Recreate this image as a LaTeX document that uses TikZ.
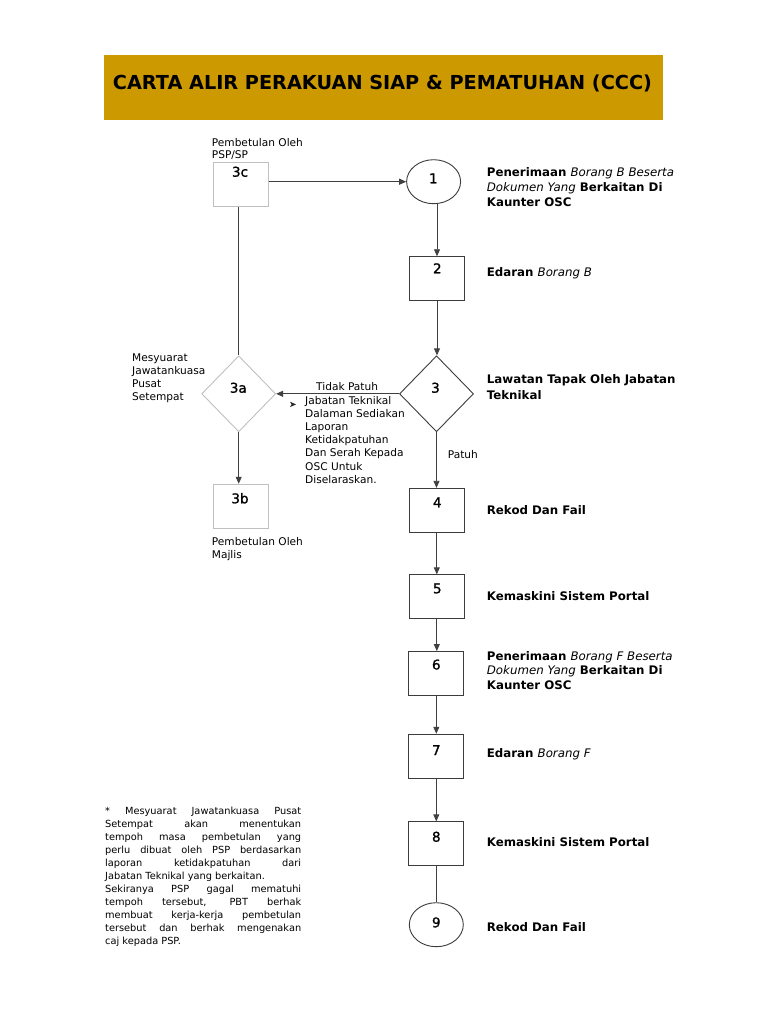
\documentclass[tikz,border=0pt]{standalone}
\usepackage{fontspec}
\setmainfont{DejaVu Sans}
\newfontfamily\numfont[FakeBold=1.2]{DejaVu Sans}
\usetikzlibrary{arrows.meta,shapes.geometric}
\definecolor{gold}{RGB}{204,153,0}
\definecolor{lgray}{RGB}{192,192,192}
\definecolor{dline}{RGB}{60,60,60}
\tikzset{
  box/.style={draw=dline, line width=0.9pt, minimum width=55pt, minimum height=44pt, inner sep=0pt},
  gbox/.style={box, draw=lgray},
  oval/.style={ellipse, draw=dline, line width=0.9pt, minimum width=54pt, minimum height=44pt, inner sep=0pt},
  dia/.style={diamond, draw=dline, line width=0.9pt, minimum width=74pt, minimum height=76pt, inner sep=0pt},
  gdia/.style={dia, draw=lgray},
  num/.style={font=\numfont\fontsize{13.5}{16}\selectfont, inner sep=0pt, anchor=base},
  lbl/.style={font=\fontsize{10.6}{13}\selectfont, align=left, anchor=base west, inner sep=0pt},
  blbl/.style={font=\fontsize{11.8}{15}\selectfont\bfseries, align=left, anchor=base west, inner sep=0pt},
  arr/.style={draw=black!75, line width=0.8pt, -{Triangle[length=7pt,width=6pt]}},
  ln/.style={draw=black!75, line width=0.8pt},
}
\newcommand{\jline}[1]{\makebox[196pt][s]{#1}}
\begin{document}
\begin{tikzpicture}[x=1pt,y=-1pt]
\path[use as bounding box, fill=white] (0,0) rectangle (768,1024);
% title
\node[fill=gold, minimum width=559pt, minimum height=65pt, inner sep=0pt, anchor=north west] (title) at (103.3,55) {};
\node[font=\fontsize{19}{22}\selectfont\bfseries, anchor=base west, inner sep=0pt] (ttext) at (112.7,90)
  {\resizebox{539pt}{!}{CARTA ALIR PERAKUAN SIAP \& PEMATUHAN (CCC)}};
% left column
\node[gbox] (n3c) at (240.8,184.5) {};
\node[num] (t3c) at (240,176.7) {3c};
\node[gdia] (n3a) at (238.7,393.8) {};
\node[num] (t3a) at (238.3,392.7) {3a};
\node[gbox] (n3b) at (240.5,506.2) {};
\node[num] (t3b) at (240,503.3) {3b};
% main column
\node[oval] (n1) at (433.6,181.7) {};
\node[num] (t1) at (433.3,183.3) {1};
\node[box] (n2) at (437,278.7) {};
\node[num] (t2) at (437.3,273.3) {2};
\node[dia] (n3) at (436.5,393.8) {};
\node[num] (t3) at (435.5,392.7) {3};
\node[box] (n4) at (436.8,510.3) {};
\node[num] (t4) at (437.3,507.3) {4};
\node[box] (n5) at (436.8,596.8) {};
\node[num] (t5) at (437.3,593.3) {5};
\node[box] (n6) at (436.3,673.5) {};
\node[num] (t6) at (436.3,669.5) {6};
\node[box] (n7) at (436.3,756.2) {};
\node[num] (t7) at (436.3,755) {7};
\node[box] (n8) at (436.3,843.8) {};
\node[num] (t8) at (436.3,841.7) {8};
\node[oval] (n9) at (436.3,924.7) {};
\node[num] (t9) at (436.3,927.3) {9};
% connectors
\draw[arr] (n1.west -| n3c.east) -- (n1.west);
\draw[ln] (n3c.south -| n3a.north) -- (n3a.north);
\draw[arr] (n3a.south) -- (n3a.south |- n3b.north);
\draw[arr] (n2.north |- n1.south) -- (n2.north);
\draw[arr] (n2.south) -- (n2.south |- n3.north);
\draw[arr] (n3.west) -- (n3a.east);
\draw[arr] (n3.south) -- (n3.south |- n4.north);
\draw[arr] (n4.south) -- (n4.south |- n5.north);
\draw[arr] (n5.south) -- (n5.south |- n6.north);
\draw[arr] (n6) -- (n7);
\draw[arr] (n7) -- (n8);
\draw[ln] (n8) -- (n9);
% bullet marker
\coordinate (bm) at (290,401.7);
\fill[black!85] (bm) -- ++(6,2.7) -- ++(-6,2.7) -- ++(1.6,-2.7) -- cycle;
% left labels (anchor = baseline of last line)
\node[lbl, font=\fontsize{10.6}{12}\selectfont] (l3c) at (211.7,159) {Pembetulan Oleh\\PSP/SP};
\node[lbl] (l3a) at (132,400.7) {Mesyuarat\\Jawatankuasa\\Pusat\\Setempat};
\node[lbl, font=\fontsize{10.6}{13.5}\selectfont] (l3b) at (211.7,558.5) {Pembetulan Oleh\\Majlis};
\node[lbl] (ltp) at (316,390) {Tidak Patuh};
\node[lbl, font=\fontsize{10.6}{13.2}\selectfont] (ljt) at (305,483.2) {Jabatan Teknikal\\Dalaman Sediakan\\Laporan\\Ketidakpatuhan\\Dan Serah Kepada\\OSC Untuk\\Diselaraskan.};
\node[lbl] (lpt) at (447.7,458) {Patuh};
% right labels
\node[blbl] (r1) at (486.7,206.7) {Penerimaan \textmd{\itshape Borang B Beserta}\\\textmd{\itshape Dokumen Yang} Berkaitan Di\\Kaunter OSC};
\node[blbl] (r2) at (486.7,276) {Edaran \textmd{\itshape Borang B}};
\node[blbl, font=\fontsize{11.8}{15.5}\selectfont\bfseries] (r3) at (486.7,399) {Lawatan Tapak Oleh Jabatan\\Teknikal};
\node[blbl] (r4) at (486.7,514) {Rekod Dan Fail};
\node[blbl] (r5) at (486.7,600.7) {Kemaskini Sistem Portal};
\node[blbl, font=\fontsize{11.8}{14.75}\selectfont\bfseries] (r6) at (486.7,689.5) {Penerimaan \textmd{\itshape Borang F Beserta}\\\textmd{\itshape Dokumen Yang} Berkaitan Di\\Kaunter OSC};
\node[blbl] (r7) at (486.7,757.7) {Edaran \textmd{\itshape Borang F}};
\node[blbl] (r8) at (486.7,846) {Kemaskini Sistem Portal};
\node[blbl] (r9) at (486.7,931) {Rekod Dan Fail};
% note
\node[lbl, font=\fontsize{9.8}{13}\selectfont] (note) at (105,944) {%
\jline{* Mesyuarat Jawatankuasa Pusat}\\
\jline{Setempat akan menentukan}\\
\jline{tempoh masa pembetulan yang}\\
\jline{perlu dibuat oleh PSP berdasarkan}\\
\jline{laporan ketidakpatuhan dari}\\
Jabatan Teknikal yang berkaitan.\\
\jline{Sekiranya PSP gagal mematuhi}\\
\jline{tempoh tersebut, PBT berhak}\\
\jline{membuat kerja-kerja pembetulan}\\
\jline{tersebut dan berhak mengenakan}\\
caj kepada PSP.};
\end{tikzpicture}
\end{document}
